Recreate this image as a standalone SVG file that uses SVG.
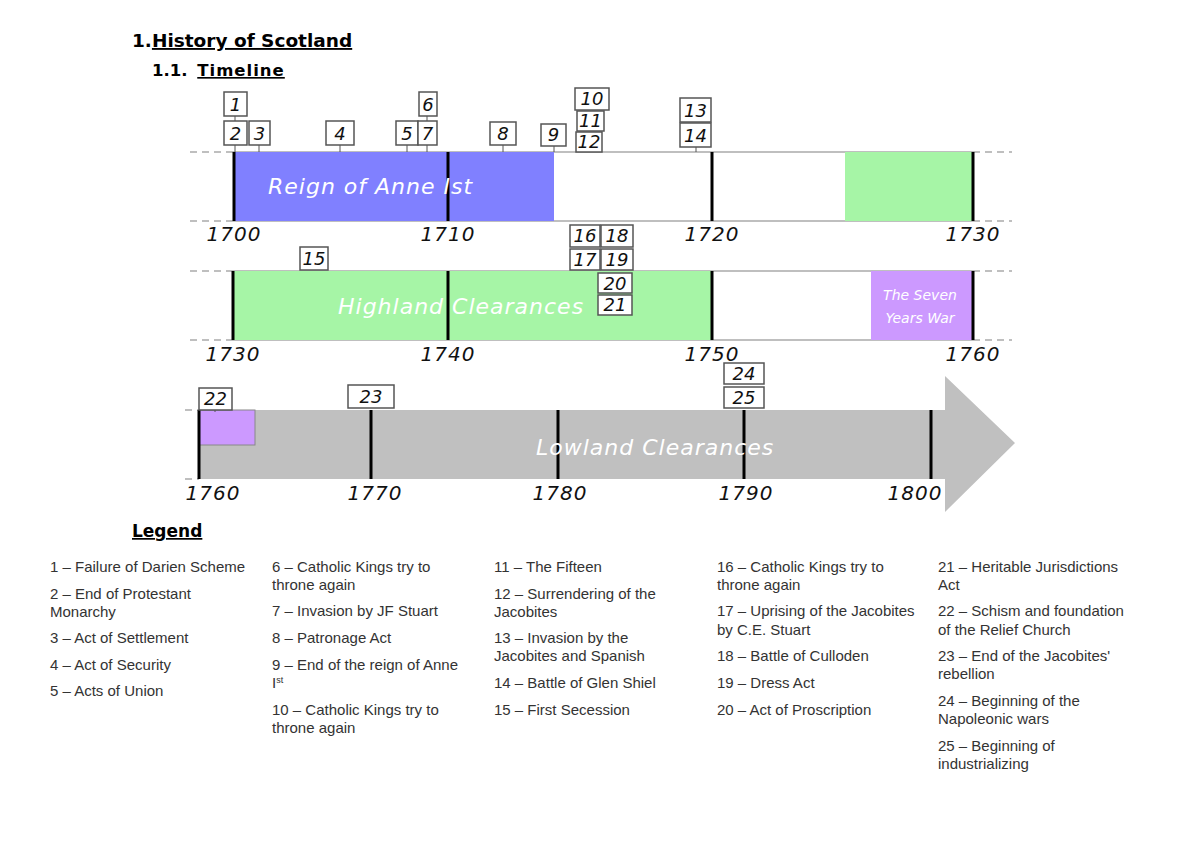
<svg xmlns="http://www.w3.org/2000/svg" width="1200" height="848" viewBox="0 0 1200 848">
<style>
.t{font-family:"DejaVu Sans",sans-serif;font-weight:bold;fill:#000}
.bx rect{fill:#fff;stroke:#555;stroke-width:1.5}
.bx text,.yr{font-family:"DejaVu Sans",sans-serif;font-style:italic;font-size:18px;fill:#111;text-anchor:middle}
.yr{font-size:20px;letter-spacing:1px}
.big{font-family:"DejaVu Sans",sans-serif;font-style:italic;fill:#fff;font-size:22px;letter-spacing:1px}
.sm{font-family:"DejaVu Sans",sans-serif;font-style:italic;fill:#fff;font-size:14px;text-anchor:middle}
.tk{stroke:#000;stroke-width:3}
.ed{stroke:#aaa;stroke-width:1.5}
.ds{stroke:#aaa;stroke-width:1.5;stroke-dasharray:7 5}
.lg{font-family:"Liberation Sans",Arial,sans-serif;font-size:15px;fill:#333}
</style>
<rect width="1200" height="848" fill="#fff"/>
<text class="t" x="132" y="47" font-size="18.5">1.<tspan text-decoration="underline">History of Scotland</tspan></text>
<text class="t" x="152" y="76" font-size="16.5">1.1.  <tspan dx="4" text-decoration="underline" letter-spacing="1">Timeline</tspan></text>

<g id="row1">
<line class="ds" x1="190" y1="152" x2="233" y2="152"/><line class="ds" x1="190" y1="221" x2="233" y2="221"/>
<line class="ds" x1="973" y1="152" x2="1012" y2="152"/><line class="ds" x1="973" y1="221" x2="1012" y2="221"/>
<line class="ed" x1="233" y1="152" x2="973" y2="152"/><line class="ed" x1="233" y1="221" x2="973" y2="221"/>
<rect x="233" y="152" width="321" height="69" fill="#8080ff"/>
<rect x="845" y="152" width="128" height="69" fill="#a6f5a6"/>
<line class="tk" x1="234" y1="152" x2="234" y2="221"/><line class="tk" x1="448" y1="152" x2="448" y2="221"/>
<line class="tk" x1="712" y1="152" x2="712" y2="221"/><line class="tk" x1="973" y1="152" x2="973" y2="221"/>
<text class="big" x="268" y="194">Reign of Anne Ist</text>
<text class="yr" x="234" y="241">1700</text><text class="yr" x="448" y="241">1710</text><text class="yr" x="712" y="241">1720</text><text class="yr" x="973" y="241">1730</text>
</g>

<g id="row2">
<line class="ds" x1="190" y1="271" x2="233" y2="271"/><line class="ds" x1="190" y1="340" x2="233" y2="340"/>
<line class="ds" x1="973" y1="271" x2="1012" y2="271"/><line class="ds" x1="973" y1="340" x2="1012" y2="340"/>
<line class="ed" x1="233" y1="271" x2="973" y2="271"/><line class="ed" x1="233" y1="340" x2="973" y2="340"/>
<rect x="233" y="271" width="479" height="69" fill="#a6f5a6"/>
<rect x="871" y="271" width="102" height="69" fill="#cc99ff"/>
<line class="tk" x1="233" y1="271" x2="233" y2="340"/><line class="tk" x1="448" y1="271" x2="448" y2="340"/>
<line class="tk" x1="712" y1="271" x2="712" y2="340"/><line class="tk" x1="973" y1="271" x2="973" y2="340"/>
<text class="big" x="338" y="314">Highland  Clearances</text>
<text class="sm" x="920" y="300">The Seven</text>
<text class="sm" x="920" y="323">Years War</text>
<text class="yr" x="233" y="361">1730</text><text class="yr" x="448" y="361">1740</text><text class="yr" x="712" y="361">1750</text><text class="yr" x="973" y="361">1760</text>
</g>

<g id="row3">
<line class="ds" x1="185" y1="410" x2="199" y2="410"/><line class="ds" x1="185" y1="479" x2="199" y2="479"/>
<polygon points="199,410 945,410 945,376 1015,443 945,512 945,479 199,479" fill="#c0c0c0"/>
<rect x="199" y="410" width="56" height="35" fill="#cc99ff" stroke="#888"/>
<line class="tk" x1="199" y1="410" x2="199" y2="479"/><line class="tk" x1="371" y1="410" x2="371" y2="479" stroke-width="2"/>
<line class="tk" x1="558" y1="410" x2="558" y2="479"/><line class="tk" x1="744" y1="410" x2="744" y2="479" stroke-width="2"/>
<line class="tk" x1="931" y1="410" x2="931" y2="479"/>
<text class="big" x="536" y="455">Lowland  Clearances</text>
<text class="yr" x="213" y="500">1760</text><text class="yr" x="375" y="500">1770</text><text class="yr" x="560" y="500">1780</text><text class="yr" x="746" y="500">1790</text><text class="yr" x="915" y="500">1800</text>
</g>

<g id="connectors" stroke="#555" stroke-width="1">
<line x1="235" y1="116" x2="235" y2="121"/><line x1="235" y1="145" x2="235" y2="152"/>
<line x1="259" y1="145" x2="259" y2="152"/><line x1="340" y1="145" x2="340" y2="152"/>
<line x1="407" y1="145" x2="407" y2="152"/><line x1="427" y1="116" x2="427" y2="121"/><line x1="427" y1="145" x2="427" y2="152"/>
<line x1="503" y1="145" x2="503" y2="152"/><line x1="554" y1="146" x2="554" y2="152"/>
<line x1="696" y1="147" x2="696" y2="152"/>
<line x1="215" y1="410" x2="215" y2="412"/>
</g>

<g class="bx">
<g id="n1"><rect x="224" y="92" width="23" height="24"/><text x="235.5" y="111">1</text></g>
<g id="n2"><rect x="224" y="121" width="23" height="24"/><text x="235.5" y="140">2</text></g>
<g id="n3"><rect x="249" y="121" width="21" height="24"/><text x="259.5" y="140">3</text></g>
<g id="n4"><rect x="326" y="121" width="28" height="24"/><text x="340" y="140">4</text></g>
<g id="n5"><rect x="396" y="121" width="22" height="24"/><text x="407" y="140">5</text></g>
<g id="n7"><rect x="418" y="121" width="19" height="24"/><text x="427.5" y="140">7</text></g>
<g id="n6"><rect x="419" y="92" width="18" height="24"/><text x="428" y="111">6</text></g>
<g id="n8"><rect x="490" y="122" width="26" height="23"/><text x="503" y="140">8</text></g>
<g id="n9"><rect x="541" y="124" width="25" height="22"/><text x="553.5" y="141">9</text></g>
<g id="n10"><rect x="575" y="88" width="34" height="22"/><text x="592" y="105">10</text></g>
<g id="n11"><rect x="577" y="111" width="27" height="20"/><text x="590.5" y="127">11</text></g>
<g id="n12"><rect x="576" y="132" width="26" height="20"/><text x="589" y="148">12</text></g>
<g id="n13"><rect x="680" y="98" width="31" height="24"/><text x="695.5" y="117">13</text></g>
<g id="n14"><rect x="680" y="123" width="31" height="24"/><text x="695.5" y="142">14</text></g>
<g id="n15"><rect x="300" y="247" width="28" height="23"/><text x="314" y="265">15</text></g>
<g id="n16"><rect x="570" y="225" width="30" height="22"/><text x="585" y="242">16</text></g>
<g id="n18"><rect x="601" y="225" width="32" height="22"/><text x="617" y="242">18</text></g>
<g id="n17"><rect x="570" y="249" width="30" height="21"/><text x="585" y="266">17</text></g>
<g id="n19"><rect x="601" y="249" width="32" height="21"/><text x="617" y="266">19</text></g>
<g id="n20"><rect x="598" y="273" width="34" height="20" fill="#a6f5a6"/><text x="615" y="290">20</text></g>
<g id="n21"><rect x="598" y="295" width="34" height="20" fill="#a6f5a6"/><text x="615" y="311">21</text></g>
<g id="n22"><rect x="199" y="388" width="33" height="22"/><text x="215.5" y="405">22</text></g>
<g id="n23"><rect x="348" y="385" width="46" height="23"/><text x="371" y="403">23</text></g>
<g id="n24"><rect x="724" y="363" width="40" height="21"/><text x="744" y="380">24</text></g>
<g id="n25"><rect x="724" y="387" width="40" height="21"/><text x="744" y="404">25</text></g>
</g>

<text class="t" x="132" y="537" font-size="17" text-decoration="underline">Legend</text>
<g class="lg">
<text x="50" y="572">1 – Failure of Darien Scheme</text>
<text x="50" y="599">2 – End of Protestant</text><text x="50" y="617">Monarchy</text>
<text x="50" y="643">3 – Act of Settlement</text>
<text x="50" y="670">4 – Act of Security</text>
<text x="50" y="696">5 – Acts of Union</text>
<text x="272" y="572">6 – Catholic Kings try to</text><text x="272" y="590">throne again</text>
<text x="272" y="616">7 – Invasion by JF Stuart</text>
<text x="272" y="643">8 – Patronage Act</text>
<text x="272" y="670">9 – End of the reign of Anne</text><text x="272" y="688">I<tspan font-size="9" dy="-5">st</tspan></text>
<text x="272" y="715">10 – Catholic Kings try to</text><text x="272" y="733">throne again</text>
<text x="494" y="572">11 – The Fifteen</text>
<text x="494" y="599">12 – Surrendering of the</text><text x="494" y="617">Jacobites</text>
<text x="494" y="643">13 – Invasion by the</text><text x="494" y="661">Jacobites and Spanish</text>
<text x="494" y="688">14 – Battle of Glen Shiel</text>
<text x="494" y="715">15 – First Secession</text>
<text x="717" y="572">16 – Catholic Kings try to</text><text x="717" y="590">throne again</text>
<text x="717" y="616">17 – Uprising of the Jacobites</text><text x="717" y="635">by C.E. Stuart</text>
<text x="717" y="661">18 – Battle of Culloden</text>
<text x="717" y="688">19 – Dress Act</text>
<text x="717" y="715">20 – Act of Proscription</text>
<text x="938" y="572">21 – Heritable Jurisdictions</text><text x="938" y="590">Act</text>
<text x="938" y="616">22 – Schism and foundation</text><text x="938" y="635">of the Relief Church</text>
<text x="938" y="661">23 – End of the Jacobites'</text><text x="938" y="679">rebellion</text>
<text x="938" y="706">24 – Beginning of the</text><text x="938" y="724">Napoleonic wars</text>
<text x="938" y="751">25 – Beginning of</text><text x="938" y="769">industrializing</text>
</g>
</svg>
